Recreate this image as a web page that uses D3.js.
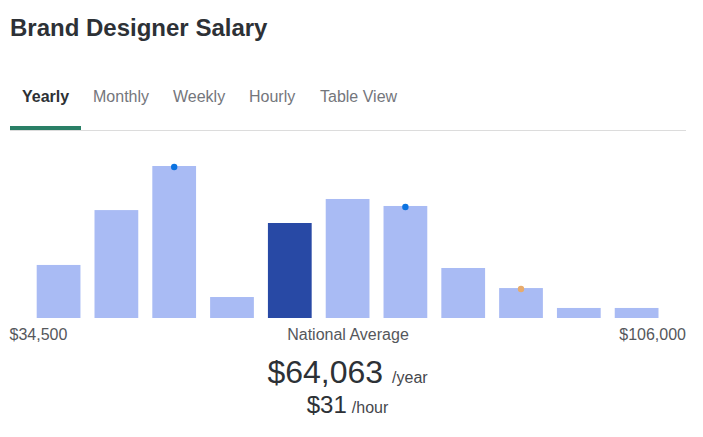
<!DOCTYPE html>
<html>
<head>
<meta charset="utf-8">
<script src="https://cdn.jsdelivr.net/npm/d3@7"></script>
<style>
  html, body { margin: 0; padding: 0; background: #fff; }
  svg { display: block; }
  text { font-family: "Liberation Sans", Arial, sans-serif; }
</style>
</head>
<body>
<div id="chart"></div>
<script>
/* DATA */
const chartTitle = "Brand Designer Salary";
const tabs = ["Yearly", "Monthly", "Weekly", "Hourly", "Table View"];
const tabX = [22, 93, 173, 249, 320];
// bar heights, tallest bar = 100
const bins = d3.range(11);
const shares = [34.9, 71, 100, 13.8, 62.5, 78.3, 73.7, 32.9, 19.7, 6.6, 6.6];
const averageBin = 4;
const markerBins = [2, 6, 8];
const markerColors = ["#0b73e0", "#0b73e0", "#e8ab6c"];
const rangeLabels = ["$34,500", "National Average", "$106,000"];

const width = 703, height = 437;

const svg = d3.select("#chart").append("svg")
  .attr("width", width)
  .attr("height", height);

/* SCALES */
const xScale = d3.scaleBand()
  .domain(bins)
  .range([36.7, 658.5])
  .paddingInner(0.243)
  .paddingOuter(0);

const yScale = d3.scaleLinear()
  .domain([0, 100])
  .range([318, 166]);

/* HEADER */
svg.append("text")
  .attr("x", 10).attr("y", 36)
  .attr("font-size", 24).attr("font-weight", 700)
  .attr("fill", "#2d3136")
  .text(chartTitle);

svg.selectAll("text.tab")
  .data(tabs)
  .join("text")
  .attr("class", "tab")
  .attr("x", (d, i) => tabX[i])
  .attr("y", 102)
  .attr("font-size", 16)
  .attr("font-weight", (d, i) => i === 0 ? 700 : 400)
  .attr("fill", (d, i) => i === 0 ? "#2d3136" : "#74767c")
  .text(d => d);

svg.append("rect")
  .attr("x", 10).attr("y", 130)
  .attr("width", 676).attr("height", 1)
  .attr("fill", "#dcdcdc");

svg.append("rect")
  .attr("x", 10).attr("y", 126)
  .attr("width", 71).attr("height", 4)
  .attr("fill", "#2a7f66");

/* BARS */
svg.selectAll("rect.bar")
  .data(shares)
  .join("rect")
  .attr("class", "bar")
  .attr("x", (d, i) => xScale(i))
  .attr("y", d => yScale(d))
  .attr("width", xScale.bandwidth())
  .attr("height", d => yScale(0) - yScale(d))
  .attr("fill", (d, i) => i === averageBin ? "#2849a5" : "#a9bbf4");

/* MARKERS */
svg.selectAll("circle.marker")
  .data(markerBins)
  .join("circle")
  .attr("class", "marker")
  .attr("cx", d => xScale(d) + xScale.bandwidth() / 2)
  .attr("cy", d => yScale(shares[d]) + 1)
  .attr("r", 3.2)
  .attr("fill", (d, i) => markerColors[i]);

/* RANGE LABELS */
svg.selectAll("text.range")
  .data(rangeLabels)
  .join("text")
  .attr("class", "range")
  .attr("x", (d, i) => [9.5, 348, 686][i])
  .attr("y", 340)
  .attr("font-size", 16)
  .attr("text-anchor", (d, i) => ["start", "middle", "end"][i])
  .attr("fill", "#55575c")
  .text(d => d);

/* AVERAGE PAY */
const pay = svg.append("text")
  .attr("x", 347.5).attr("y", 383)
  .attr("text-anchor", "middle")
  .attr("fill", "#2d3136");
pay.append("tspan").attr("font-size", 32).text("$64,063");
pay.append("tspan").attr("font-size", 16).attr("dx", 9).attr("fill", "#45474c").text("/year");

const payHour = svg.append("text")
  .attr("x", 347.5).attr("y", 413)
  .attr("text-anchor", "middle")
  .attr("fill", "#2d3136");
payHour.append("tspan").attr("font-size", 24).text("$31");
payHour.append("tspan").attr("font-size", 16).attr("dx", 5).attr("fill", "#45474c").text("/hour");
</script>
</body>
</html>
